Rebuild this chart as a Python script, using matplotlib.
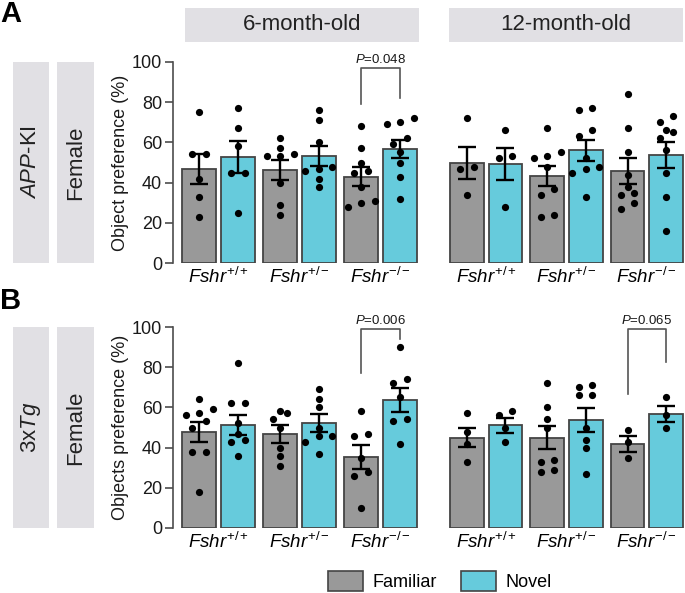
import numpy as np
import matplotlib
matplotlib.use("Agg")
import matplotlib.pyplot as plt
from matplotlib.patches import Rectangle, Patch

plt.rcParams["font.family"] = "Liberation Sans"
plt.rcParams["mathtext.fontset"] = "custom"
plt.rcParams["mathtext.rm"] = "Liberation Sans"
plt.rcParams["mathtext.it"] = "Liberation Sans:italic"
plt.rcParams["mathtext.bf"] = "Liberation Sans:bold"

# genotype labels
genotypes = [r"$\mathit{Fshr}^{+/+}$", r"$\mathit{Fshr}^{+/-}$", r"$\mathit{Fshr}^{-/-}$"]
ages = ["6-month-old", "12-month-old"]

# APP-KI, 6 months
app6_fam_mean = [46.8, 46.1, 43.0]
app6_fam_sem = [7.5, 5.0, 4.6]
app6_fam_pts = [[75, 54, 54, 42, 33, 23],
                [62, 57, 54, 53, 53, 40, 29, 24],
                [68, 57, 50, 46, 45, 38, 31, 30, 28]]
app6_nov_mean = [52.7, 53.2, 56.7]
app6_nov_sem = [8.0, 4.9, 4.6]
app6_nov_pts = [[77, 67, 58, 45, 45, 25],
                [76, 71, 60, 48, 47, 46, 42, 38],
                [72, 70, 69, 62, 59, 55, 50, 43, 32]]

# APP-KI, 12 months
app12_fam_mean = [49.8, 43.3, 45.6]
app12_fam_sem = [8.0, 5.0, 6.5]
app12_fam_pts = [[72, 48, 47, 34],
                 [67, 55, 53, 52, 48, 37, 34, 24, 23],
                 [84, 67, 55, 44, 38, 35, 34, 30, 27]]
app12_nov_mean = [49.4, 56.0, 53.6]
app12_nov_sem = [7.9, 5.1, 6.4]
app12_nov_pts = [[66, 53, 52, 28],
                 [77, 76, 66, 63, 52, 48, 47, 45, 33],
                 [73, 70, 66, 65, 62, 56, 45, 33, 16]]

# 3xTg, 6 months
tg6_fam_mean = [47.8, 46.8, 35.2]
tg6_fam_sem = [4.8, 4.5, 6.0]
tg6_fam_pts = [[64, 59, 57, 56, 53, 50, 38, 38, 18],
               [58, 57, 54, 50, 40, 36, 31],
               [58, 47, 46, 35, 28, 26, 10]]
tg6_nov_mean = [51.2, 52.2, 63.8]
tg6_nov_sem = [4.8, 4.4, 6.0]
tg6_nov_pts = [[82, 62, 62, 52, 47, 44, 43, 36],
               [69, 64, 60, 50, 46, 46, 43, 37],
               [90, 74, 72, 65, 54, 53, 42]]

# 3xTg, 12 months
tg12_fam_mean = [45.0, 45.0, 41.8]
tg12_fam_sem = [4.9, 5.7, 4.2]
tg12_fam_pts = [[57, 48, 42, 33],
                [72, 60, 54, 50, 34, 33, 29, 28],
                [49, 43, 35]]
tg12_nov_mean = [51.2, 53.6, 56.5]
tg12_nov_sem = [3.7, 5.9, 4.0]
tg12_nov_pts = [[58, 56, 50, 43],
                [71, 70, 66, 66, 50, 44, 40, 27],
                [65, 56, 50]]

# p-value brackets: (text, left leg bottom, right leg bottom, top)
app6_p = ("0.048", 79, 82, 97)
tg6_p = ("0.006", 77, 94, 99)
tg12_p = ("0.065", 66.5, 82.5, 99)

GRAY = "#999999"
CYAN = "#66cbdc"
EDGE = "#444444"
BOX = "#e1e0e4"

W, H = 685, 593
group_gap = 2.4
pair_gap = 1.15


def swarm_offsets(values, step=0.4, tol=3.5):
    values = np.asarray(values, dtype=float)
    order = np.argsort(values)
    offs = np.zeros(len(values))
    i = 0
    while i < len(order):
        j = i
        while j + 1 < len(order) and values[order[j + 1]] - values[order[i]] < tol:
            j += 1
        n = j - i + 1
        for k in range(n):
            offs[order[i + k]] = (k - (n - 1) / 2) * step
        i = j + 1
    return offs


def draw_panel(ax, fam, nov, pval=None):
    centers = np.arange(3) * group_gap
    for k, (means, sems, pts, color) in enumerate([(*fam, GRAY), (*nov, CYAN)]):
        x = centers + (k - 0.5) * pair_gap
        ax.bar(x, means, width=1, color=color, edgecolor=EDGE, linewidth=1.3, zorder=1)
        ax.errorbar(x, means, yerr=sems, fmt="none", ecolor="black",
                    elinewidth=1.7, capsize=6.5, capthick=1.7, zorder=2)
        for xi, p in zip(x, pts):
            ax.scatter(xi + swarm_offsets(p), p, s=27, color="black",
                       linewidths=0, zorder=3, clip_on=False)

    if pval is not None:
        text, lb, rb, top = pval
        xl = centers[2] - pair_gap / 2
        xr = centers[2] + pair_gap / 2
        ax.plot([xl, xl, xr, xr], [lb, top, top, rb], color="#555555",
                lw=1.2, clip_on=False, zorder=4)
        ax.text(centers[2], top + 1.2, r"$\mathit{P}$=" + text, ha="center",
                va="bottom", fontsize=9.5, color="#1a1a1a", clip_on=False)

    ax.set_xlim(-1.345, centers[2] + pair_gap / 2 + 0.5 + 0.06)
    ax.set_ylim(0, 100)
    ax.set_xticks(centers)
    ax.set_xticklabels(genotypes, fontsize=13.5)
    ax.tick_params(axis="x", length=0, pad=3)
    for s in ["top", "right", "bottom"]:
        ax.spines[s].set_visible(False)
    ax.patch.set_visible(False)


def px_axes(x0, y0, x1, y1):
    return [x0 / W, 1 - y1 / H, (x1 - x0) / W, (y1 - y0) / H]


def px_box(fig, x0, y0, x1, y1, text, size, rot=0):
    fig.add_artist(Rectangle((x0 / W, 1 - y1 / H), (x1 - x0) / W, (y1 - y0) / H,
                             transform=fig.transFigure, facecolor=BOX,
                             edgecolor="none", zorder=0))
    fig.text((x0 + x1) / 2 / W, 1 - (y0 + y1) / 2 / H, text, fontsize=size,
             ha="center", va="center", rotation=rot, color="#222222")


fig = plt.figure(figsize=(W / 100, H / 100), dpi=100)

rows = [
    (62, 263, 14, "A", r"$\mathit{APP}$-KI", "Object preference (%)",
     (app6_fam_mean, app6_fam_sem, app6_fam_pts), (app6_nov_mean, app6_nov_sem, app6_nov_pts), app6_p,
     (app12_fam_mean, app12_fam_sem, app12_fam_pts), (app12_nov_mean, app12_nov_sem, app12_nov_pts), None),
    (327, 528, 301, "B", r"3x$\mathit{Tg}$", "Objects preference (%)",
     (tg6_fam_mean, tg6_fam_sem, tg6_fam_pts), (tg6_nov_mean, tg6_nov_sem, tg6_nov_pts), tg6_p,
     (tg12_fam_mean, tg12_fam_sem, tg12_fam_pts), (tg12_nov_mean, tg12_nov_sem, tg12_nov_pts), tg12_p),
]

for (y0, y1, ly, letter, model, ylabel, f6, n6, p6, f12, n12, p12) in rows:
    ax_l = fig.add_axes(px_axes(173, y0, 419, y1))
    ax_r = fig.add_axes(px_axes(441, y0, 685, y1))
    draw_panel(ax_l, f6, n6, p6)
    draw_panel(ax_r, f12, n12, p12)

    ax_l.set_yticks([0, 20, 40, 60, 80, 100])
    ax_l.tick_params(axis="y", labelsize=13, length=6, width=1.2,
                     color="#4d4d4d", labelcolor="#1a1a1a", pad=2)
    ax_l.spines["left"].set_color("#4d4d4d")
    ax_l.spines["left"].set_linewidth(1.2)
    ax_l.set_ylabel(ylabel, fontsize=13, labelpad=2, color="#1a1a1a")

    ax_r.spines["left"].set_visible(False)
    ax_r.set_yticks([])

    px_box(fig, 13, y0, 49, y1, model, 16, rot=90)
    px_box(fig, 57, y0, 94, y1, "Female", 16, rot=90)
    fig.text(11 / W, 1 - ly / H, letter, fontsize=21, fontweight="bold",
             ha="center", va="center")

# age headers
px_box(fig, 185, 8, 419, 42, ages[0], 16)
px_box(fig, 449, 8, 683, 42, ages[1], 16)

handles = [Patch(facecolor=GRAY, edgecolor=EDGE, linewidth=1.2),
           Patch(facecolor=CYAN, edgecolor=EDGE, linewidth=1.2)]
fig.legend(handles, ["Familiar", "Novel"], loc="lower center",
           bbox_to_anchor=(440 / W, 0.0), ncol=2, frameon=False, fontsize=13,
           handlelength=1.9, handleheight=1.3, handletextpad=0.55,
           columnspacing=1.35, borderpad=0.1, borderaxespad=0)

fig.savefig("out.png", dpi=100)
